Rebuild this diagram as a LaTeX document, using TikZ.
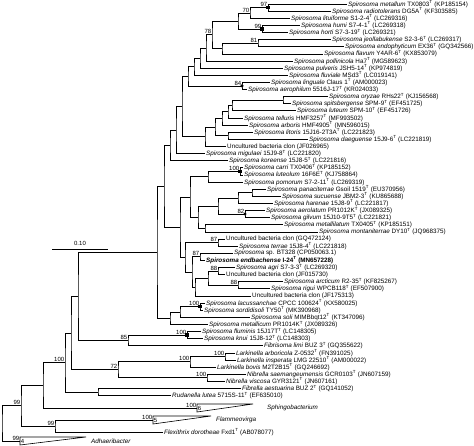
\documentclass[tikz,border=0pt]{standalone}
\usepackage{fontspec}
\setmainfont{Liberation Sans}
\usetikzlibrary{calc}
\tikzset{
  leaf/.style={anchor=west, inner sep=1pt, font=\fontsize{6.3}{7}\selectfont},
  bs/.style={anchor=south east, inner sep=0.6pt, font=\fontsize{6}{7}\selectfont},
  branch/.style={line width=0.6pt},
  sq/.style={fill, rectangle, minimum size=3.2pt, inner sep=0pt},
  dot/.style={fill, circle, minimum size=3.4pt, inner sep=0pt},
  tri/.style={line width=0.6pt},
}
\newcommand{\tT}{\textsuperscript{T}}
\begin{document}
\begin{tikzpicture}[x=1pt, y=-1pt, declare function={rw(\i)=4+7.12*(\i-1);}]
	\useasboundingbox (0,0) rectangle (474,446);
	
	%	clade helper: name, x, child, child
	\def\clade#1#2#3#4{%
		\coordinate (#1) at ($(#3)!.5!(#4)$);
		\coordinate (#1) at (#2,0 |- #1);
		\draw[branch] (#3) -| (#1) |- (#4);}
	
	%	leaves
	\node[leaf] (l1) at (347,{rw(1)}) {\textit{Spirosoma metallum} TX0803\tT{} (KP185154)};
	\node[leaf] (l2) at (331,{rw(2)}) {\textit{Spirosoma radiotolerans} DG5A\tT{} (KF303585)};
	\node[leaf] (l3) at (290,{rw(3)}) {\textit{Spirosoma lituiforme} S1-2-4\tT{} (LC269316)};
	\node[leaf] (l4) at (300,{rw(4)}) {\textit{Spirosoma humi} S7-4-1\tT{} (LC269318)};
	\node[leaf] (l5) at (288,{rw(5)}) {\textit{Spirosoma horti} S7-3-19\tT{} (LC269321)};
	\node[leaf] (l6) at (331,{rw(6)}) {\textit{Spirosoma jeollabukense} S2-3-6\tT{} (LC269317)};
	\node[leaf] (l7) at (344,{rw(7)}) {\textit{Spirosoma endophyticum} EX36\tT{} (GQ342566)};
	\node[leaf] (l8) at (323,{rw(8)}) {\textit{Spirosoma flavum} Y4AR-6\tT{} (KX853079)};
	\node[leaf] (l9) at (293,{rw(9)}) {\textit{Spirosoma pollinicola} Ha7\tT{} (MG589623)};
	\node[leaf] (l10) at (283,{rw(10)}) {\textit{Spirosoma pulveris} JSH5-14\tT{} (KP974819)};
	\node[leaf] (l11) at (288,{rw(11)}) {\textit{Spirosoma fluviale} MSd3\tT{} (LC019141)};
	\node[leaf] (l12) at (270,{rw(12)}) {\textit{Spirosoma linguale} Claus 1\tT{} (AM000023)};
	\node[leaf] (l13) at (247,{rw(13)}) {\textit{Spirosoma aerophilum} 5516J-17\tT{} (KR024033)};
	\node[leaf] (l14) at (328,{rw(14)}) {\textit{Spirosoma oryzae} RHs22\tT{} (KJ156568)};
	\node[leaf] (l15) at (291,{rw(15)}) {\textit{Spirosoma spitsbergense} SPM-9\tT{} (EF451725)};
	\node[leaf] (l16) at (296,{rw(16)}) {\textit{Spirosoma luteum} SPM-10\tT{} (EF451726)};
	\node[leaf] (l17) at (243,{rw(17)}) {\textit{Spirosoma telluris} HMF3257\tT{} (MF993502)};
	\node[leaf] (l18) at (248,{rw(18)}) {\textit{Spirosoma arboris} HMF4905\tT{} (MN596015)};
	\node[leaf] (l19) at (253,{rw(19)}) {\textit{Spirosoma litoris} 15J16-2T3A\tT{} (LC221823)};
	\node[leaf] (l20) at (308,{rw(20)}) {\textit{Spirosoma daeguense} 15J9-6\tT{} (LC221819)};
	\node[leaf] (l21) at (226,{rw(21)}) {Uncultured bacteria clon (JF026965)};
	\node[leaf] (l22) at (205,{rw(22)}) {\textit{Spirosoma migulaei} 15J9-8\tT{} (LC221820)};
	\node[leaf] (l23) at (228,{rw(23)}) {\textit{Spirosoma koreense} 15J8-5\tT{} (LC221816)};
	\node[leaf] (l24) at (243,{rw(24)}) {\textit{Spirosoma carri} TX0406\tT{} (KP185152)};
	\node[leaf] (l25) at (243,{rw(25)}) {\textit{Spirosoma luteolum} 16F6E\tT{} (KJ758864)};
	\node[leaf] (l26) at (243,{rw(26)}) {\textit{Spirosoma pomorum} S7-2-11\tT{} (LC269319)};
	\node[leaf] (l27) at (266,{rw(27)}) {\textit{Spirosoma panaciterrae} Gsoil 1519\tT{} (EU370956)};
	\node[leaf] (l28) at (281,{rw(28)}) {\textit{Spirosoma sucuense} JBM2-3\tT{} (KU865688)};
	\node[leaf] (l29) at (273,{rw(29)}) {\textit{Spirosoma harenae} 15J8-9\tT{} (LC221817)};
	\node[leaf] (l30) at (265,{rw(30)}) {\textit{Spirosoma aerolatum} PR1012K\tT{} (JX089325)};
	\node[leaf] (l31) at (270,{rw(31)}) {\textit{Spirosoma gilvum} 15J10-9T5\tT{} (LC221821)};
	\node[leaf] (l32) at (283,{rw(32)}) {\textit{Spirosoma metallilatum} TX0405\tT{} (KP185151)};
	\node[leaf] (l33) at (318,{rw(33)}) {\textit{Spirosoma montaniterrae} DY10\tT{} (JQ968375)};
	\node[leaf] (l34) at (225,{rw(34)}) {Uncultured bacteria clon (GQ472124)};
	\node[leaf] (l35) at (238,{rw(35)}) {\textit{Spirosoma terrae} 15J8-4\tT{} (LC221818)};
	\node[leaf] (l36) at (233,{rw(36)}) {\textit{Spirosoma} sp. BT328 (CP050063.1)};
	\node[leaf] (l37) at (205,{rw(37)}) {\bfseries\textit{Spirosoma endbachense} I-24\tT{} (MN657228)};
	\node[leaf] (l38) at (235,{rw(38)}) {\textit{Spirosoma agri} S7-3-3\tT{} (LC269320)};
	\node[leaf] (l39) at (225,{rw(39)}) {Uncultured bacteria clon (JF015730)};
	\node[leaf] (l40) at (283,{rw(40)}) {\textit{Spirosoma arcticum} R2-35\tT{} (KF825267)};
	\node[leaf] (l41) at (270,{rw(41)}) {\textit{Spirosoma rigui} WPCB118\tT{} (EF507900)};
	\node[leaf] (l42) at (251,{rw(42)}) {Uncultured bacteria clon (JF175313)};
	\node[leaf] (l43) at (205,{rw(43)}) {\textit{Spirosoma lacussanchae} CPCC 100624\tT{} (KX580025)};
	\node[leaf] (l44) at (203,{rw(44)}) {\textit{Spirosoma sordidisoli} TY50\tT{} (MK390968)};
	\node[leaf] (l45) at (250,{rw(45)}) {\textit{Spirosoma soli} MIMBbqt12\tT{} (KT347096)};
	\node[leaf] (l46) at (208,{rw(46)}) {\textit{Spirosoma metallicum} PR1014K\tT{} (JX089326)};
	\node[leaf] (l47) at (201,{rw(47)}) {\textit{Spirosoma fluminis} 15J17T\tT{} (LC148305)};
	\node[leaf] (l48) at (203,{rw(48)}) {\textit{Spirosoma knui} 15J8-12\tT{} (LC148303)};
	\node[leaf] (l49) at (263,{rw(49)}) {\textit{Fibrisoma limi} BUZ 3\tT{} (GQ355622)};
	\node[leaf] (l50) at (235,{rw(50)}) {\textit{Larkinella arboricola} Z-0532\tT{} (FN391025)};
	\node[leaf] (l51) at (236,{rw(51)}) {\textit{Larkinella insperata} LMG 22510\tT{} (AM000022)};
	\node[leaf] (l52) at (216,{rw(52)}) {\textit{Larkinella bovis} M2T2B15\tT{} (GQ246692)};
	\node[leaf] (l53) at (246,{rw(53)}) {\textit{Nibrella saemangeumensis} GCR0103\tT{} (JN607159)};
	\node[leaf] (l54) at (225,{rw(54)}) {\textit{Nibrella viscosa} GYR3121\tT{} (JN607161)};
	\node[leaf] (l55) at (241,{rw(55)}) {\textit{Fibrella aestuarina} BUZ 2\tT{} (GQ141052)};
	\node[leaf] (l56) at (171,{rw(56)}) {\textit{Rudanella lutea} 5715S-11\tT{} (EF635010)};
	\node[leaf] (l57) at (163,432) {\textit{Flexithrix dorotheae} Fxd1\tT{} (AB078077)};
	
	%	collapsed groups
	\coordinate (sph) at (197,408);
	\coordinate (flm) at (153,420);
	\coordinate (adh) at (20,441);
	\draw[tri] (sph) ++(0,-4) coordinate (sph1) -- ++(56,0) coordinate (sph2) -- ++(-56,8) -- cycle;
	\draw[tri] (flm) ++(0,-4) coordinate (flm1) -- ++(58,0) coordinate (flm2) -- ++(-58,8) -- cycle;
	\draw[tri] (adh) ++(0,-4) coordinate (adh1) -- ++(66,0) coordinate (adh2) -- ++(-66,8) -- cycle;
	\node[bs, anchor=west] (n6) at (sph) {6};
	\node[bs, anchor=west] (n5) at (flm) {5};
	\node[bs, anchor=west] (n4) at (adh) {4};
	\node[leaf, font=\fontsize{6.3}{7}\selectfont\itshape] (t1) at ($(sph2)+(13,4)$) {Sphingobacterium};
	\node[leaf, font=\fontsize{6.3}{7}\selectfont\itshape] (t2) at ($(flm2)+(4,4)$) {Flammeovirga};
	\node[leaf, font=\fontsize{6.3}{7}\selectfont\itshape] (t3) at ($(adh2)+(4,4)$) {Adhaeribacter};
	
	%	clades
	\clade{a1}{268}{l1.west}{l2.west}
	\clade{a2}{250}{a1}{l3.west}
	\clade{a3}{262}{l4.west}{l5.west}
	\clade{a4}{238}{a2}{a3}
	\clade{a5}{258}{l6.west}{l7.west}
	\clade{a6}{222}{a5}{l8.west}
	\clade{a7}{212}{a4}{a6}
	\clade{a8}{206}{a7}{l9.west}
	\clade{a9}{200}{a8}{l10.west}
	\clade{a10}{194}{a9}{l11.west}
	\clade{a11}{242}{l12.west}{l13.west}
	\clade{a12}{188}{a10}{a11}
	\clade{b1}{283}{l14.west}{l15.west}
	\clade{b2}{232}{b1}{l16.west}
	\clade{b3}{228}{b2}{l17.west}
	\clade{b4}{222}{b3}{l18.west}
	\clade{b5}{228}{l19.west}{l20.west}
	\clade{b6}{215}{b4}{b5}
	\clade{b7}{205}{b6}{l21.west}
	\clade{c1}{182}{a12}{b7}
	\clade{c2}{176}{c1}{l22.west}
	\clade{c3}{170}{c2}{l23.west}
	\clade{d1}{240}{l24.west}{l25.west}
	\clade{d2}{208}{d1}{l26.west}
	\clade{d3}{252}{l27.west}{l28.west}
	\clade{d4}{238}{d3}{l29.west}
	\clade{d5}{245}{l30.west}{l31.west}
	\clade{d6}{218}{d4}{d5}
	\clade{d7}{205}{l32.west}{l33.west}
	\clade{d8}{198}{d6}{d7}
	\clade{d9}{190}{d2}{d8}
	\clade{e1}{218}{l34.west}{l35.west}
	\clade{e2}{200}{l36.west}{l37.west}
	\clade{e3}{218}{l38.west}{l39.west}
	\clade{e4}{238}{l40.west}{l41.west}
	\clade{e5}{208}{e3}{e4}
	\clade{e6}{195}{e5}{l42.west}
	\clade{e7}{192}{e2}{e6}
	\clade{e8}{185}{e1}{e7}
	\clade{e9}{180}{d9}{e8}
	\clade{f1}{200}{l43.west}{l44.west}
	\clade{f2}{180}{f1}{l45.west}
	\clade{f3}{170}{f2}{l46.west}
	\clade{g1}{164}{c3}{e9}
	\clade{g2}{157}{g1}{f3}
	\clade{h1}{187}{l47.west}{l48.west}
	\clade{h2}{128}{h1}{l49.west}
	\clade{h3}{78}{g2}{h2}
	\clade{k1}{225}{l50.west}{l51.west}
	\clade{k2}{190}{k1}{l52.west}
	\clade{k3}{207}{l53.west}{l54.west}
	\clade{k4}{118}{k2}{k3}
	\clade{m1}{98}{l55.west}{l56.west}
	\clade{i0}{71}{h3}{k4}
	\clade{i1}{65}{i0}{m1}
	\clade{s1}{43}{i1}{sph}
	\clade{fl}{55}{flm}{l57.west}
	\clade{r1}{21}{s1}{fl}
	\clade{root}{2}{r1}{adh}
	
	%	support values
	\foreach \n/\v in {a1/97, a2/70, a3/99, a5/81, a7/78, a11/84, d1/100, d5/82, e1/87, e2/87, e3/88, e4/88,
		f1/100, h1/100, h2/85, k1/100, k2/100, k3/100, k4/72, i1/100, fl/99, r1/99}
		\node[bs] (s\n) at (\n) {\v};
	\node[bs] (ssph) at (sph) {100};
	\node[bs] (sflm) at (flm) {100};
	\node[bs] (sadh) at (adh) {99};
	
	%	markers
	\foreach \n in {a1, a3, d1, f1, h1}
		\node[sq] (q\n) at (\n) {};
	\foreach \n in {a11, d5}
		\node[dot] (o\n) at (\n) {};
	
	%	scale bar
	\coordinate (sb1) at (52,249);
	\coordinate (sb2) at (108,249);
	\draw[branch] (sb1) -- (sb2) node[midway, above, font=\fontsize{6}{7}\selectfont] (sbl) {0.10};
\end{tikzpicture}
\end{document}
